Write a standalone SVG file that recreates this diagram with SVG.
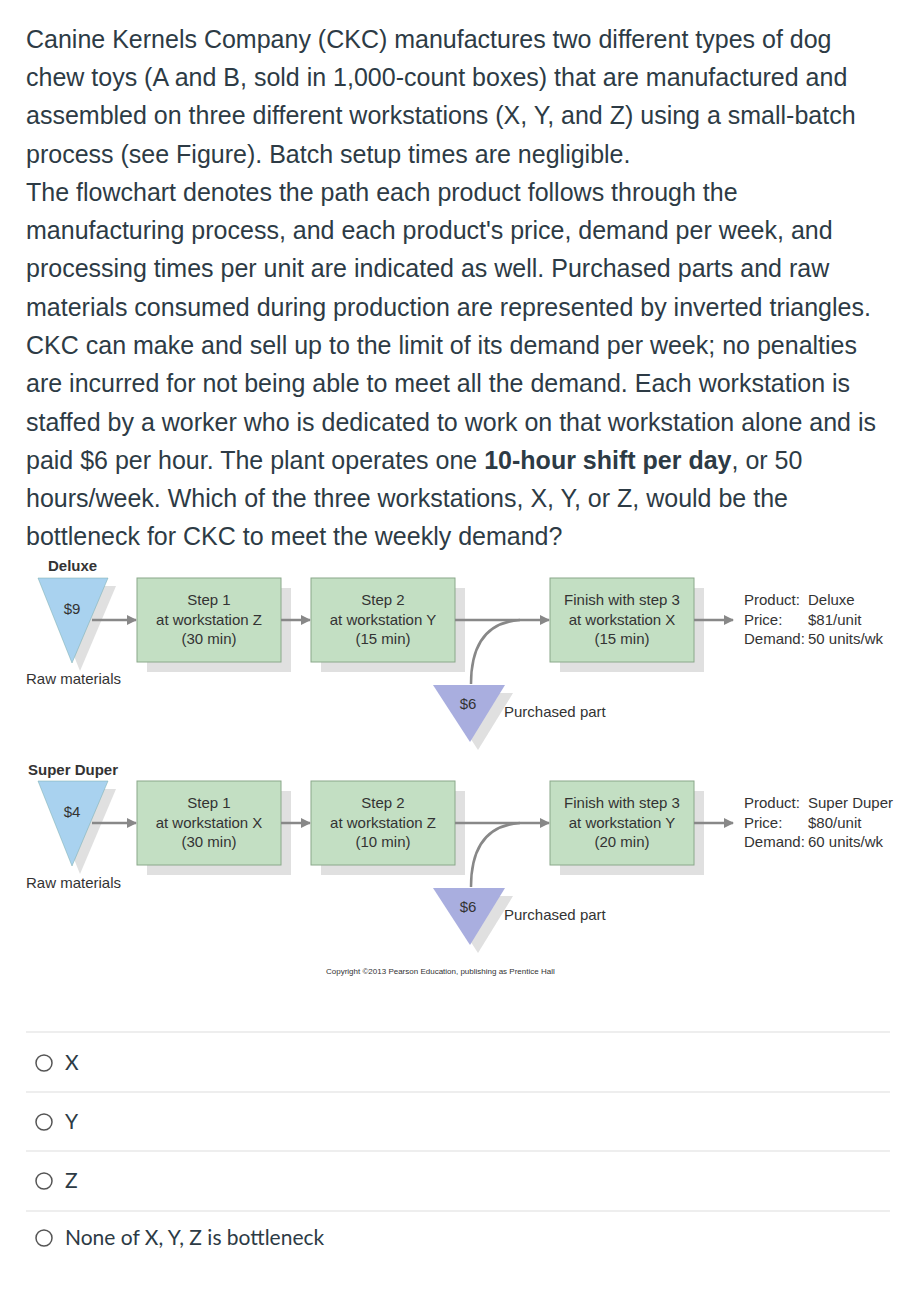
<svg xmlns="http://www.w3.org/2000/svg" width="908" height="1294" viewBox="0 0 908 1294">
<defs>
<style>
.q{font-family:"Liberation Sans",Arial,sans-serif;font-size:25px;fill:#2d3b45}
.d{font-family:"Liberation Sans Narrow","Liberation Sans",sans-serif;font-size:15px;fill:#333}
.b{font-weight:bold}
.box{fill:#c3dfc3;stroke:#8aa88a;stroke-width:1}
.sh{fill:#e0e0e0}
.tri{fill:#a9d2ef;stroke:#7aa;stroke-width:0.5}
.tri2{fill:#a9aedf}
.ln{stroke:#888;stroke-width:2.5;fill:none}
.sep{stroke:#ddd;stroke-width:1}
.opt{font-family:Lato,"Liberation Sans",sans-serif;font-size:21px;fill:#2d3b45}
.rc{fill:#fff;stroke:#555;stroke-width:1.5}
</style>
<marker id="ah" viewBox="0 0 10 10" refX="9" refY="5" markerWidth="4" markerHeight="4" orient="auto"><path d="M0,0L10,5L0,10z" fill="#888"/></marker>
</defs>
<rect width="908" height="1294" fill="#fff"/>
<g id="question">
<text class="q" x="26" y="48">Canine Kernels Company (CKC) manufactures two different types of dog</text>
<text class="q" x="26" y="86">chew toys (A and B, sold in 1,000-count boxes) that are manufactured and</text>
<text class="q" x="26" y="124">assembled on three different workstations (X, Y, and Z) using a small-batch</text>
<text class="q" x="26" y="163">process (see Figure). Batch setup times are negligible.</text>
<text class="q" x="26" y="201">The flowchart denotes the path each product follows through the</text>
<text class="q" x="26" y="239">manufacturing process, and each product's price, demand per week, and</text>
<text class="q" x="26" y="277">processing times per unit are indicated as well. Purchased parts and raw</text>
<text class="q" x="26" y="316">materials consumed during production are represented by inverted triangles.</text>
<text class="q" x="26" y="354">CKC can make and sell up to the limit of its demand per week; no penalties</text>
<text class="q" x="26" y="392">are incurred for not being able to meet all the demand. Each workstation is</text>
<text class="q" x="26" y="431">staffed by a worker who is dedicated to work on that workstation alone and is</text>
<text class="q" x="26" y="469">paid $6 per hour. The plant operates one <tspan class="b">10-hour shift per day</tspan>, or 50</text>
<text class="q" x="26" y="507">hours/week. Which of the three workstations, X, Y, or Z, would be the</text>
<text class="q" x="26" y="545">bottleneck for CKC to meet the weekly demand?</text>
</g>
<g id="deluxe">
<text class="d b" x="48" y="571">Deluxe</text>
<polygon class="sh" points="46,586 116,586 80,671"/>
<polygon class="tri" points="38,578 108,578 72,663"/>
<text class="d" x="72" y="614" text-anchor="middle">$9</text>
<text class="d" x="26" y="684">Raw materials</text>
<rect class="sh" x="147" y="588" width="144" height="84"/>
<rect class="box" x="137" y="578" width="144" height="84"/>
<text class="d" x="209" y="605" text-anchor="middle">Step 1</text>
<text class="d" x="209" y="625" text-anchor="middle">at workstation Z</text>
<text class="d" x="209" y="644" text-anchor="middle">(30 min)</text>
<rect class="sh" x="321" y="588" width="144" height="84"/>
<rect class="box" x="311" y="578" width="144" height="84"/>
<text class="d" x="383" y="605" text-anchor="middle">Step 2</text>
<text class="d" x="383" y="625" text-anchor="middle">at workstation Y</text>
<text class="d" x="383" y="644" text-anchor="middle">(15 min)</text>
<rect class="sh" x="560" y="588" width="144" height="84"/>
<rect class="box" x="550" y="578" width="144" height="84"/>
<text class="d" x="622" y="605" text-anchor="middle">Finish with step 3</text>
<text class="d" x="622" y="625" text-anchor="middle">at workstation X</text>
<text class="d" x="622" y="644" text-anchor="middle">(15 min)</text>
<polygon class="sh" points="441,693 513,693 478,750"/>
<polygon class="tri2" points="433,685 505,685 470,742"/>
<text class="d" x="468" y="709" text-anchor="middle">$6</text>
<text class="d" x="504" y="717">Purchased part</text>
<text class="d" x="744" y="605">Product:<tspan x="808">Deluxe</tspan></text>
<text class="d" x="744" y="625">Price:<tspan x="808">$81/unit</tspan></text>
<text class="d" x="744" y="644">Demand:<tspan x="808">50 units/wk</tspan></text>
</g>
<g id="superduper">
<text class="d b" x="28" y="775">Super Duper</text>
<polygon class="sh" points="46,789 116,789 80,874"/>
<polygon class="tri" points="38,781 108,781 72,866"/>
<text class="d" x="72" y="817" text-anchor="middle">$4</text>
<text class="d" x="26" y="888">Raw materials</text>
<rect class="sh" x="147" y="791" width="144" height="84"/>
<rect class="box" x="137" y="781" width="144" height="84"/>
<text class="d" x="209" y="808" text-anchor="middle">Step 1</text>
<text class="d" x="209" y="828" text-anchor="middle">at workstation X</text>
<text class="d" x="209" y="847" text-anchor="middle">(30 min)</text>
<rect class="sh" x="321" y="791" width="144" height="84"/>
<rect class="box" x="311" y="781" width="144" height="84"/>
<text class="d" x="383" y="808" text-anchor="middle">Step 2</text>
<text class="d" x="383" y="828" text-anchor="middle">at workstation Z</text>
<text class="d" x="383" y="847" text-anchor="middle">(10 min)</text>
<rect class="sh" x="560" y="791" width="144" height="84"/>
<rect class="box" x="550" y="781" width="144" height="84"/>
<text class="d" x="622" y="808" text-anchor="middle">Finish with step 3</text>
<text class="d" x="622" y="828" text-anchor="middle">at workstation Y</text>
<text class="d" x="622" y="847" text-anchor="middle">(20 min)</text>
<polygon class="sh" points="441,896 513,896 478,953"/>
<polygon class="tri2" points="433,888 505,888 470,945"/>
<text class="d" x="468" y="912" text-anchor="middle">$6</text>
<text class="d" x="504" y="920">Purchased part</text>
<text class="d" x="744" y="808">Product:<tspan x="808">Super Duper</tspan></text>
<text class="d" x="744" y="828">Price:<tspan x="808">$80/unit</tspan></text>
<text class="d" x="744" y="847">Demand:<tspan x="808">60 units/wk</tspan></text>
</g>
<g id="connectors">
<path class="ln" marker-end="url(#ah)" d="M92,620H136"/>
<path class="ln" marker-end="url(#ah)" d="M281,620H310"/>
<path class="ln" marker-end="url(#ah)" d="M455,620H549"/>
<path class="ln" d="M471,684C471,640 490,622 520,620"/>
<path class="ln" marker-end="url(#ah)" d="M694,620H733"/>
<path class="ln" marker-end="url(#ah)" d="M92,823H136"/>
<path class="ln" marker-end="url(#ah)" d="M281,823H310"/>
<path class="ln" marker-end="url(#ah)" d="M455,823H549"/>
<path class="ln" d="M471,887C471,843 490,825 520,823"/>
<path class="ln" marker-end="url(#ah)" d="M694,823H733"/>
</g>
<text x="326" y="974" font-family="Liberation Sans,sans-serif" font-size="8" fill="#333">Copyright ©2013 Pearson Education, publishing as Prentice Hall</text>
<g id="options">
<line class="sep" x1="26" y1="1032" x2="890" y2="1032"/>
<circle class="rc" cx="44" cy="1063" r="8"/><text class="opt" x="65" y="1070">X</text>
<line class="sep" x1="26" y1="1092" x2="890" y2="1092"/>
<circle class="rc" cx="44" cy="1122" r="8"/><text class="opt" x="65" y="1129">Y</text>
<line class="sep" x1="26" y1="1151" x2="890" y2="1151"/>
<circle class="rc" cx="44" cy="1181" r="8"/><text class="opt" x="65" y="1188">Z</text>
<line class="sep" x1="26" y1="1211" x2="890" y2="1211"/>
<circle class="rc" cx="44" cy="1238" r="8"/><text class="opt" x="65" y="1245">None of X, Y, Z is bottleneck</text>
</g>
</svg>
